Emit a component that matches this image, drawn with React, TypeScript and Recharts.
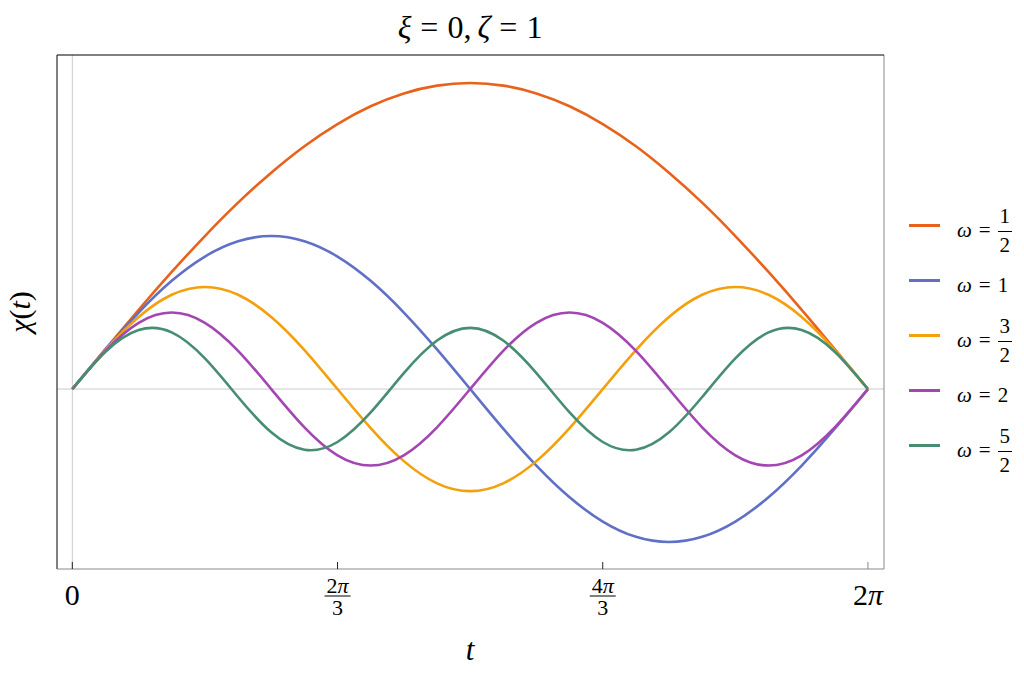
import { LineChart, Line, XAxis, YAxis, ReferenceLine, Legend } from "recharts";

// sample times (0 .. 2π in steps of π/12)
const tValues = [
  0, 0.262, 0.524, 0.785, 1.047, 1.309, 1.571, 1.833, 2.094, 2.356, 2.618, 2.88,
  3.142, 3.403, 3.665, 3.927, 4.189, 4.451, 4.712, 4.974, 5.236, 5.498, 5.76,
  6.021, 6.283,
];

// χ(t)
const chiHalf = [
  0, 0.261, 0.518, 0.765, 1.0, 1.218, 1.414, 1.587, 1.732, 1.848, 1.932, 1.983,
  2.0, 1.983, 1.932, 1.848, 1.732, 1.587, 1.414, 1.218, 1.0, 0.765, 0.518, 0.261, 0,
];
const chiOne = [
  0, 0.259, 0.5, 0.707, 0.866, 0.966, 1.0, 0.966, 0.866, 0.707, 0.5, 0.259, 0,
  -0.259, -0.5, -0.707, -0.866, -0.966, -1.0, -0.966, -0.866, -0.707, -0.5, -0.259, 0,
];
const chiThreeHalves = [
  0, 0.255, 0.471, 0.616, 0.667, 0.616, 0.471, 0.255, 0, -0.255, -0.471, -0.616,
  -0.667, -0.616, -0.471, -0.255, 0, 0.255, 0.471, 0.616, 0.667, 0.616, 0.471, 0.255, 0,
];
const chiTwo = [
  0, 0.25, 0.433, 0.5, 0.433, 0.25, 0, -0.25, -0.433, -0.5, -0.433, -0.25, 0,
  0.25, 0.433, 0.5, 0.433, 0.25, 0, -0.25, -0.433, -0.5, -0.433, -0.25, 0,
];
const chiFiveHalves = [
  0, 0.244, 0.386, 0.37, 0.2, -0.052, -0.283, -0.397, -0.346, -0.153, 0.104, 0.317,
  0.4, 0.317, 0.104, -0.153, -0.346, -0.397, -0.283, -0.052, 0.2, 0.37, 0.386, 0.244, 0,
];

const seriesKeys = ["w05", "w1", "w15", "w2", "w25"];
const seriesColors = ["#e8621c", "#6070c6", "#f4a00c", "#a346b3", "#468d72"];
const legendNum = ["1", "1", "3", "2", "5"];
const legendDen = ["2", "", "2", "", "2"];

const tickValues = [0, 2.0944, 4.1888, 6.2832];
const tickNum = ["0", "2π", "4π", "2π"];
const tickDen = ["", "3", "3", ""];

const xDomain = [-0.121, 6.41];
const yDomain = [-1.176, 2.183];

const serif = "'Liberation Serif', 'DejaVu Serif', serif";

const chartData = tValues.map((t, i) => ({
  t,
  w05: chiHalf[i],
  w1: chiOne[i],
  w15: chiThreeHalves[i],
  w2: chiTwo[i],
  w25: chiFiveHalves[i],
}));

// digits upright, π italic
function mathText(s: string) {
  return s.split("").map((c, i) =>
    c === "π" ? (
      <tspan key={i} fontStyle="italic">
        {c}
      </tspan>
    ) : (
      <tspan key={i}>{c}</tspan>
    )
  );
}

function FracTick(props: any) {
  const { x, y, payload } = props;
  const idx = tickValues.indexOf(payload.value);
  const num = tickNum[idx];
  const den = tickDen[idx];
  const last = idx === tickValues.length - 1;
  return (
    <g fontFamily={serif} fill="#000">
      <line x1={x} x2={x} y1={y} y2={y - 7} stroke={last ? "#888" : "#222"} strokeWidth={1} />
      {den ? (
        <>
          <text x={x} y={y + 24} textAnchor="middle" fontSize={22}>
            {mathText(num)}
          </text>
          <line x1={x - 13} x2={x + 13} y1={y + 27} y2={y + 27} stroke="#000" strokeWidth={1} />
          <text x={x} y={y + 46} textAnchor="middle" fontSize={22}>
            {den}
          </text>
        </>
      ) : (
        <text x={x} y={y + 36} textAnchor="middle" fontSize={30}>
          {mathText(num)}
        </text>
      )}
    </g>
  );
}

function LegendRows(props: any) {
  const payload = props.payload || [];
  return (
    <div style={{ fontFamily: serif, fontSize: 21, lineHeight: 1, color: "#000" }}>
      {payload.map((entry: any, i: number) => (
        <div key={i} style={{ position: "relative", height: 55 }}>
          <div
            style={{
              position: "absolute",
              left: 4,
              top: 26,
              width: 31,
              height: 3,
              background: entry.color,
            }}
          />
          <div
            style={{
              position: "absolute",
              left: 52,
              top: 10,
              height: 45,
              display: "flex",
              alignItems: "center",
              whiteSpace: "nowrap",
            }}
          >
            <span style={{ fontStyle: "italic" }}>ω</span>
            <span style={{ margin: "0 7px" }}>=</span>
            {legendDen[i] ? (
              <span style={{ display: "inline-flex", flexDirection: "column", alignItems: "center" }}>
                <span>{legendNum[i]}</span>
                <span style={{ width: 14, height: 1, background: "#000", margin: "4px 0 3px" }} />
                <span>{legendDen[i]}</span>
              </span>
            ) : (
              <span>{legendNum[i]}</span>
            )}
          </div>
        </div>
      ))}
    </div>
  );
}

export default function App() {
  return (
    <div
      style={{
        position: "absolute",
        left: 0,
        top: 0,
        width: 1024,
        height: 677,
        background: "#fff",
        fontFamily: serif,
      }}
    >
      <LineChart
        width={1024}
        height={677}
        data={chartData}
        margin={{ top: 55, right: 21, left: 57, bottom: 68 }}
      >
        <XAxis
          dataKey="t"
          type="number"
          domain={xDomain}
          allowDataOverflow
          ticks={tickValues}
          interval={0}
          height={40}
          tickSize={0}
          tickMargin={0}
          tickLine={false}
          axisLine={{ stroke: "#888", strokeWidth: 1 }}
          tick={<FracTick />}
        />
        <YAxis type="number" domain={yDomain} allowDataOverflow hide width={0} />
        <ReferenceLine x={0} stroke="#cacaca" strokeWidth={1} ifOverflow="visible" />
        <ReferenceLine y={0} stroke="#cacaca" strokeWidth={1} ifOverflow="visible" />
        <ReferenceLine x={xDomain[0]} stroke="#000" strokeWidth={1} ifOverflow="visible" />
        <ReferenceLine x={xDomain[1]} stroke="#888" strokeWidth={1} ifOverflow="visible" />
        <ReferenceLine y={yDomain[1]} stroke="#000" strokeWidth={1} ifOverflow="visible" />
        {seriesKeys.map((key, i) => (
          <Line
            key={key}
            dataKey={key}
            name={key}
            type="natural"
            stroke={seriesColors[i]}
            strokeWidth={2.6}
            dot={false}
            activeDot={false}
            isAnimationActive={false}
          />
        ))}
        <Legend
          layout="horizontal"
          verticalAlign="middle"
          align="right"
          content={<LegendRows />}
          wrapperStyle={{ position: "absolute", left: 905, top: 198, right: "auto", width: 119 }}
        />
      </LineChart>

      {/* title */}
      <div
        style={{
          position: "absolute",
          left: 470,
          top: 11,
          transform: "translateX(-50%)",
          fontSize: 32,
          lineHeight: 1,
          whiteSpace: "nowrap",
        }}
      >
        <i>ξ</i>
        <span style={{ margin: "0 9px" }}>=</span>0,
        <i style={{ marginLeft: 6 }}>ζ</i>
        <span style={{ margin: "0 9px" }}>=</span>1
      </div>

      {/* x label */}
      <div
        style={{
          position: "absolute",
          left: 470,
          top: 634,
          transform: "translateX(-50%)",
          fontSize: 31,
          lineHeight: 1,
        }}
      >
        <i>t</i>
      </div>

      {/* y label */}
      <div
        style={{
          position: "absolute",
          left: 20,
          top: 312,
          transform: "translate(-50%, -50%) rotate(-90deg)",
          fontSize: 30,
          lineHeight: 1,
          whiteSpace: "nowrap",
        }}
      >
        <i>χ</i>(<i>t</i>)
      </div>
    </div>
  );
}
